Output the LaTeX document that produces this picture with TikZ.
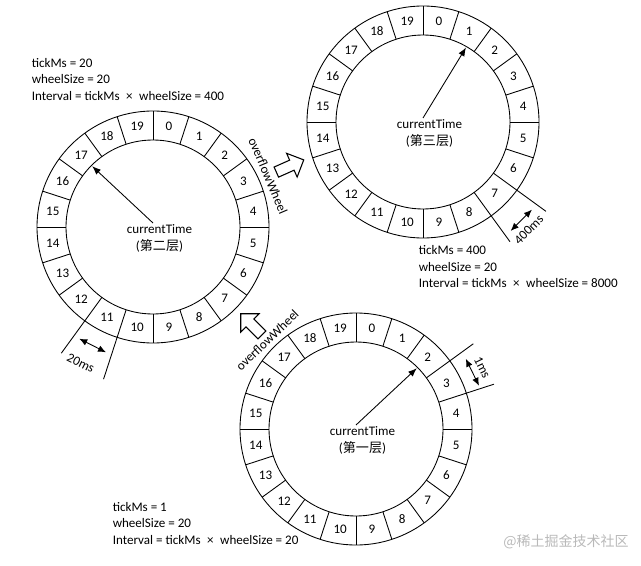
\documentclass[tikz,border=0pt]{standalone}
\usepackage{fontspec}
\setmainfont{Carlito}
\newfontfamily\cjk{Noto Sans CJK SC}
\usetikzlibrary{arrows.meta,calc}

\begin{document}
\begin{tikzpicture}[
    x=0.75pt, y=0.75pt,
    ring/.style={line width=0.65pt},
    txt/.style={font=\fontsize{9.8}{12.4}\selectfont, inner sep=0pt},
    info/.style={txt, align=left, anchor=west},
    ptr/.style={-{Latex[length=6.5pt,width=5pt]}, line width=0.65pt},
    dimline/.style={line width=0.65pt},
    dimarrow/.style={{Latex[length=6pt,width=5pt]}-{Latex[length=6pt,width=5pt]}, line width=0.65pt},
    ovarrow/.style={draw, line width=0.8pt, fill=white},
    marktext/.style={font=\cjk\fontsize{10.5}{12}\selectfont, text=gray!55, inner sep=0pt}
]

\useasboundingbox (0,0) rectangle (641,565);

% Wheel centres
\coordinate (c1) at (356,136);
\coordinate (c2) at (153,338);
\coordinate (c3) at (423,443);

% Rings, slots and slot numbers
\foreach \c in {c1,c2,c3} {
  \draw[ring] (\c) circle (116);
  \draw[ring] (\c) circle (87);
  \foreach \k [evaluate=\k as \a using 90-18*\k, evaluate=\k as \b using 81-18*\k] in {0,...,19} {
    \draw[ring] ($(\c)+(\a:87)$) -- ($(\c)+(\a:116)$);
    \node[txt] (n\c-\k) at ($(\c)+(\b:101.5)$) {\k};
  }
}

% Centre texts
\node[txt, align=center] (t1) at ($(c1)+(6.5,-11.5)$) {currentTime\\({\cjk 第一层})};
\node[txt, align=center] (t2) at ($(c2)+(6.5,-11.5)$) {currentTime\\({\cjk 第二层})};
\node[txt, align=center] (t3) at ($(c3)+(6.5,-11.5)$) {currentTime\\({\cjk 第三层})};

% currentTime pointers
\coordinate (s1) at ($(c1)+(0,4)$);
\coordinate (p1) at ($(c1)+(45:86)$);
\draw[ptr] (s1) -- (p1);
\coordinate (s2) at ($(c2)+(0,4)$);
\coordinate (p2) at ($(c2)+(135:86)$);
\draw[ptr] (s2) -- (p2);
\coordinate (s3) at ($(c3)+(0,4)$);
\coordinate (p3) at ($(c3)+(60:86)$);
\draw[ptr] (s3) -- (p3);

% Tick width, first layer
\draw[dimline] ($(c1)+(36:116)$) -- ($(c1)+(36:145)$);
\draw[dimline] ($(c1)+(18:116)$) -- ($(c1)+(18:145)$);
\coordinate (d1a) at ($(c1)+(26:129.5)+(116:15)$);
\coordinate (d1b) at ($(c1)+(26:129.5)+(-64:15)$);
\draw[dimarrow] (d1a) -- (d1b);
\node[txt, rotate=-64] (ms1) at ($(c1)+(26:140.5)$) {1ms};

% Tick width, second layer
\draw[dimline] ($(c2)+(-108:116)$) -- ($(c2)+(-108:160)$);
\draw[dimline] ($(c2)+(-126:116)$) -- ($(c2)+(-126:156)$);
\coordinate (d2a) at ($(c2)+(-117:133)+(153:15)$);
\coordinate (d2b) at ($(c2)+(-117:133)+(-27:15)$);
\draw[dimarrow] (d2a) -- (d2b);
\node[txt, rotate=-27] (ms2) at ($(c2)+(-118:154)$) {20ms};

% Tick width, third layer
\draw[dimline] ($(c3)+(-36:116)$) -- ($(c3)+(-36:152)$);
\draw[dimline] ($(c3)+(-54:116)$) -- ($(c3)+(-54:148)$);
\coordinate (d3a) at ($(c3)+(-45:139)+(-135:15)$);
\coordinate (d3b) at ($(c3)+(-45:139)+(45:15)$);
\draw[dimarrow] (d3a) -- (d3b);
\node[txt, rotate=45] (ms3) at ($(c3)+(-45.5:151)$) {400ms};

% overflowWheel arrows
\draw[ovarrow, shift={($(c2)+(24:150)$)}, rotate=24]
  (-15,-5.5) -- (2,-5.5) -- (2,-13) -- (15,0) -- (2,13) -- (2,5.5) -- (-15,5.5) -- cycle;
\node[txt, rotate=-67] (of2) at ($(c2)+(24:126)$) {overflowWheel};

\draw[ovarrow, shift={($(c1)+(135:148)$)}, rotate=135]
  (-15,-5.5) -- (2,-5.5) -- (2,-13) -- (15,0) -- (2,13) -- (2,5.5) -- (-15,5.5) -- cycle;
\node[txt, rotate=44] (of1) at ($(c1)+(135:125.5)$) {overflowWheel};

% Layer parameters
\node[info] (i1) at (112.5,41.7) {tickMs = 1\\wheelSize = 20\\Interval = tickMs\enspace×\enspace wheelSize = 20};
\node[info] (i2) at (31.5,485.7) {tickMs = 20\\wheelSize = 20\\Interval = tickMs\enspace×\enspace wheelSize = 400};
\node[info] (i3) at (418.5,298.3) {tickMs = 400\\wheelSize = 20\\Interval = tickMs\enspace×\enspace wheelSize = 8000};

% Watermark
\node[marktext] (wm) at (566,23.5) {@稀土掘金技术社区};

\end{tikzpicture}
\end{document}
